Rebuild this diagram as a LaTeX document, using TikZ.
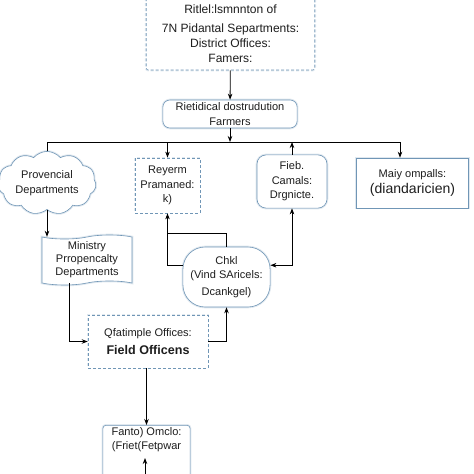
\documentclass[tikz,border=0pt]{standalone}
\usepackage{fontspec}
\setmainfont{Liberation Sans}
\usetikzlibrary{arrows.meta,shapes.symbols}
\definecolor{boxblue}{RGB}{112,150,182}
\definecolor{txt}{RGB}{30,30,30}

\begin{document}
\begin{tikzpicture}[x=0.035cm, y=-0.035cm,
	font=\fontsize{11}{14.5}\selectfont, text=txt,
	>={Stealth[length=6pt,width=4.5pt]}, line width=0.8pt,
	box/.style={draw=boxblue, line width=0.6pt, fill=white, align=center, inner sep=2pt,
		preaction={draw=boxblue!22, line width=2.6pt}},
	cloudbox/.style={box, cloud, cloud puffs=11, cloud puff arc=100, aspect=1.8}
]
\useasboundingbox (0,0) rectangle (474,474);

\node (top) [box, densely dashed, rounded corners=2pt, font=\fontsize{12}{15}\selectfont,
	minimum width=5.9cm, minimum height=2.52cm] at (230.5,34)
	{Ritlel:lsmnnton of\\[4pt]7N Pidantal Separtments:\\District Offices:\\Famers:};
\node (rd) [box, rounded corners=7pt, minimum width=4.7cm, minimum height=0.98cm] at (230,114)
	{Rietidical dostrudution\\Farmers};
\node (prov) [cloudbox, minimum width=3.15cm, minimum height=1.7cm] at (47,183) {Provencial\\Departments};
\node (rey) [box, densely dashed, minimum width=2.28cm, minimum height=1.93cm] at (167.5,185.5)
	{Reyerm\\Pramaned:\\k)};
\node (fieb) [box, rounded corners=9pt, minimum width=2.45cm, minimum height=1.86cm] at (292,181.5)
	{Fieb.\\Camals:\\Drgnicte.};
\node (maiy) [box, minimum width=3.9cm, minimum height=1.75cm] at (412.5,183)
	{Maiy ompalls:\\[2pt]{\fontsize{14}{16}\selectfont (diandaricien)}};
\node (min) [box, tape, tape bend top=in and out, tape bend bottom=in and out, tape bend height=4pt,
	font=\fontsize{11}{13}\selectfont, minimum width=3.15cm, minimum height=1.75cm] at (87,260)
	{Ministry\\Prropencalty\\Departments};
\node (chk) [box, rounded corners=22pt, minimum width=3.05cm, minimum height=2.1cm] at (226.5,277)
	{Chkl\\(Vind SAricels:\\[2pt]Dcankgel)};
\node (fld) [box, densely dashed, minimum width=4.2cm, minimum height=1.86cm] at (148,341.5)
	{Qfatimple Offices:\\[4pt]{\fontsize{12.5}{15}\selectfont\bfseries Field Officens}};
\node (fo) [box, rounded corners=3pt, minimum width=3.05cm, text depth=1.3cm, anchor=north] at (146.5,425)
	{Fanto) Omclo:\\(Friet(Fetpwar};

\coordinate (bus) at (230,142);
\coordinate (bl) at (prov.north |- bus);
\coordinate (br) at (400,142);
\coordinate (jn) at (168,233);
\coordinate (fb) at (145,480);
\coordinate (fe) at (145,458);

\path[->]
(top) edge (rd)
(rd) edge (bus)
;
\draw (bl) -- (br);
\draw (bl) -- (prov.north);
\draw[->] (br) -- (br |- maiy.north);
\draw[->] (bus -| rey.north) -- (rey.north);
\draw[->] (fieb.north) -- (fieb.north |- bus);
\draw[->] (prov.south) -- (prov.south |- min.north);
\draw[->] ([xshift=-0.6cm]min.south) |- (fld.west);
\draw[->] (fld.east) -| (chk.south);
\draw (chk.north) |- (jn);
\draw[->] (chk.165) -| (rey.south);
\draw[<->] (chk.15) -| (fieb.south);
\draw[->] (fld.south -| fo.north) -- (fo.north);
\draw[->] (fb) -- (fe);
\end{tikzpicture}
\end{document}
